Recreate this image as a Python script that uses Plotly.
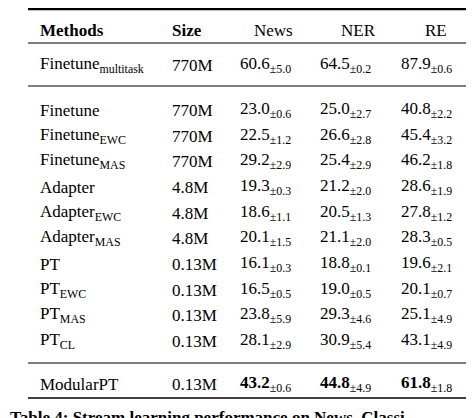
import plotly.graph_objects as go

methods = ["Finetune<sub>multitask</sub>", "Finetune", "Finetune<sub>EWC</sub>", "Finetune<sub>MAS</sub>",
           "Adapter", "Adapter<sub>EWC</sub>", "Adapter<sub>MAS</sub>", "PT", "PT<sub>EWC</sub>",
           "PT<sub>MAS</sub>", "PT<sub>CL</sub>", "ModularPT"]
sizes = ["770M", "770M", "770M", "770M", "4.8M", "4.8M", "4.8M", "0.13M", "0.13M", "0.13M", "0.13M", "0.13M"]
news = ["60.6", "23.0", "22.5", "29.2", "19.3", "18.6", "20.1", "16.1", "16.5", "23.8", "28.1", "43.2"]
news_sd = ["5.0", "0.6", "1.2", "2.9", "0.3", "1.1", "1.5", "0.3", "0.5", "5.9", "2.9", "0.6"]
ner = ["64.5", "25.0", "26.6", "25.4", "21.2", "20.5", "21.1", "18.8", "19.0", "29.3", "30.9", "44.8"]
ner_sd = ["0.2", "2.7", "2.8", "2.9", "2.0", "1.3", "2.0", "0.1", "0.5", "4.6", "5.4", "4.9"]
re_ = ["87.9", "40.8", "45.4", "46.2", "28.6", "27.8", "28.3", "19.6", "20.1", "25.1", "43.1", "61.8"]
re_sd = ["0.6", "2.2", "3.2", "1.8", "1.9", "1.2", "0.5", "2.1", "0.7", "4.9", "4.9", "1.8"]
headers = ["<b>Methods</b>", "<b>Size</b>", "News", "NER", "RE"]

row_y = [57, 102, 128, 153, 179, 205, 230, 256, 282, 307, 333, 376]
FONT = "Liberation Serif"
fig = go.Figure()
ann = []
def t(x, y, s, anchor="left", size=17):
    ann.append(dict(x=x, y=y, text=s, showarrow=False, xanchor=anchor, yanchor="middle",
                    font=dict(family=FONT, size=size, color="black")))
hx = [30, 162, 265, 350, 428]
for i, h in enumerate(headers):
    t(hx[i], 22, h, "left" if i < 2 else "center")
for i in range(len(methods)):
    y = row_y[i]
    bold = i == len(methods) - 1
    t(30, y, methods[i])
    t(162, y, sizes[i])
    for x, v, s in [(230, news[i], news_sd[i]), (310, ner[i], ner_sd[i]), (391, re_[i], re_sd[i])]:
        vv = f"<b>{v}</b>" if bold else v
        t(x, y, f"{vv}<sub>±{s}</sub>")
t(0, 409, "<b>Table 4: Stream learning performance on News, Classi</b>")

shapes = []
for y, w in [(1, 2.5), (35, 1.2), (78, 1.2), (355, 1.2), (390, 1.5)]:
    shapes.append(dict(type="line", x0=20, x1=461, y0=y, y1=y, line=dict(color="black", width=w)))
fig.update_layout(width=474, height=418, margin=dict(l=0, r=0, t=0, b=0),
                  plot_bgcolor="white", paper_bgcolor="white",
                  xaxis=dict(range=[0, 474], visible=False),
                  yaxis=dict(range=[418, 0], visible=False),
                  annotations=ann, shapes=shapes)
fig.write_html("out.html")
